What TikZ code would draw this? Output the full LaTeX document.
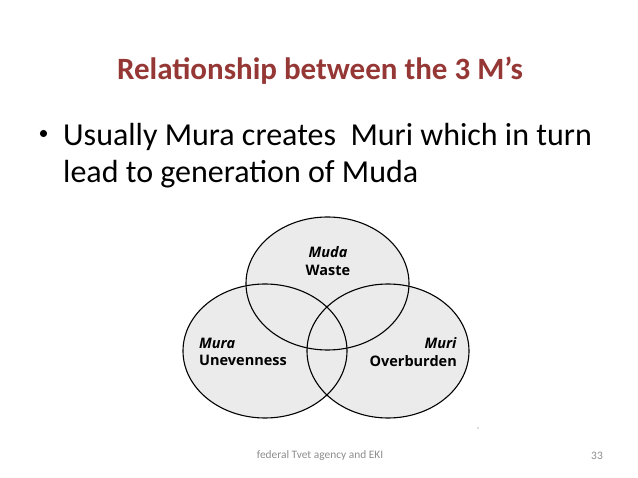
\documentclass[tikz,border=0pt]{standalone}
\usepackage{fontspec}
\setmainfont{Carlito}
\newfontfamily\vennfont{Open Sans}
\definecolor{titlered}{HTML}{953735}
\definecolor{vennfill}{HTML}{EBEBEB}
\definecolor{footgray}{HTML}{8C8C8C}
\tikzset{
  vennset/.style={draw=black, line width=1.1pt},
  vennlabel/.style={font=\vennfont\fontsize{14.5}{17.5}\selectfont, inner sep=0pt, align=center},
  bodytext/.style={anchor=base west, font=\fontsize{32}{38}\selectfont, inner sep=0pt},
}
\begin{document}
\begin{tikzpicture}[x=1pt,y=-1pt]
\useasboundingbox (0,0) rectangle (638,478);
% fills first
\fill[vennfill] (327.5,283.5) ellipse [x radius=81.5, y radius=66.5];
\fill[vennfill] (265,351) ellipse [x radius=82, y radius=67];
\fill[vennfill] (388,351) ellipse [x radius=81, y radius=67];
\draw[vennset] (327.5,283.5) ellipse [x radius=81.5, y radius=66.5];
\draw[vennset] (265,351) ellipse [x radius=82, y radius=67];
\draw[vennset] (388,351) ellipse [x radius=81, y radius=67];
\node[anchor=base, text=titlered, font=\bfseries\fontsize{31}{36}\selectfont, inner sep=0pt] (title) at (320,80) {Relationship between the 3 M’s};
\fill (43.5,133.5) circle (3.6);
\node[bodytext] (line1) at (63,146) {Usually Mura creates\ \ Muri which in turn};
\node[bodytext] (line2) at (63,183) {lead to generation of Muda};
\node[vennlabel] (muda) at (328,261) {\textbf{\textit{Muda}}\\\textbf{Waste}};
\node[vennlabel, anchor=west, align=left] (mura) at (199,352) {\textbf{\textit{Mura}}\\\textbf{Unevenness}};
\node[vennlabel, anchor=east, align=right] (muri) at (457,352) {\textbf{\textit{Muri}}\\\textbf{Overburden}};
\fill[footgray!60] (478,428) circle (0.8);
\node[text=footgray, font=\fontsize{11.4}{13}\selectfont] (foot) at (320,456) {federal Tvet agency and EKI};
\node[text=footgray, font=\fontsize{11.4}{13}\selectfont] (page) at (597,456) {33};
\end{tikzpicture}
\end{document}
